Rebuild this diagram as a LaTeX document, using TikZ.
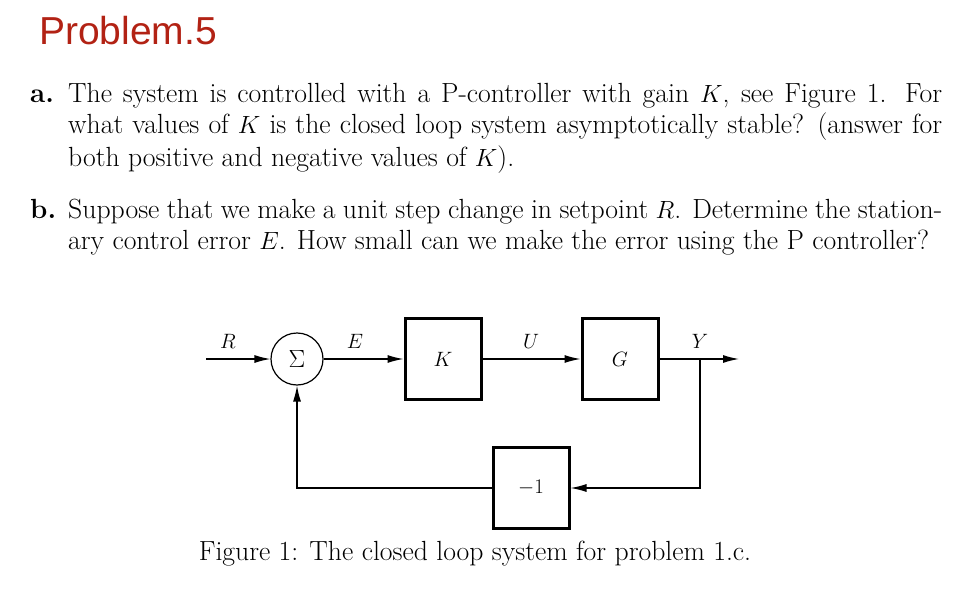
\documentclass[tikz,border=0pt]{standalone}
\usepackage{fontspec}
\newfontfamily\headfont{Liberation Sans}
\usetikzlibrary{arrows.meta}
\definecolor{headred}{RGB}{178,34,20}
\tikzset{
  blk/.style={draw,line width=3pt,minimum width=76pt,minimum height=81pt,inner sep=0pt,font=\fontsize{22}{22}\selectfont},
  sumc/.style={draw,circle,line width=1.2pt,minimum size=52pt,inner sep=0pt,font=\fontsize{24}{24}\selectfont},
  sig/.style={line width=1.3pt,-{Latex[length=16pt,width=8pt]}},
  wire/.style={line width=1.3pt},
  lbl/.style={font=\fontsize{22}{22}\selectfont\itshape},
  bodyl/.style={anchor=base west,inner sep=0pt,font=\fontsize{27.7}{31}\selectfont}
}
\newcommand{\jline}[1]{\makebox[874pt][s]{#1}}
\begin{document}
\begin{tikzpicture}[x=1pt,y=-1pt]
\useasboundingbox (0,0) rectangle (966,591);
\node[anchor=west,inner sep=0pt,text=headred,font=\headfont\fontsize{39}{39}\selectfont] (head) at (39,31) {Problem.5};
% part a
\node[bodyl] (la) at (30,103) {\textbf{a.}};
\node[bodyl] (a1) at (68,103) {\jline{The system is controlled with a P-controller with gain $K$, see Figure 1. For}};
\node[bodyl] (a2) at (68,134) {\jline{what values of $K$ is the closed loop system asymptotically stable? (answer for}};
\node[bodyl] (a3) at (68,166) {both positive and negative values of $K$).};
% part b
\node[bodyl] (lb) at (30,218) {\textbf{b.}};
\node[bodyl] (b1) at (68,218) {\jline{Suppose that we make a unit step change in setpoint $R$. Determine the station-}};
\node[bodyl] (b2) at (68,249) {ary control error $E$. How small can we make the error using the P controller?};
% diagram
\coordinate (rin) at (206,359);
\node[sumc] (sum) at (297,359) {$\Sigma$};
\node[blk] (K) at (443,359) {$K$};
\node[blk] (G) at (620,359) {$G$};
\node[blk] (M) at (531,488) {$-1$};
\coordinate (br) at (700,359);
\coordinate (yout) at (739,359);
\coordinate (bl) at (297,488);
\coordinate (brd) at (700,488);
\draw[sig] (rin) -- (sum.west);
\draw[sig] (sum.east) -- (K.west);
\draw[sig] (K.east) -- (G.west);
\draw[wire] (G.east) -- (br);
\draw[sig] (br) -- (yout);
\draw[sig] (br) -- (brd) -- (M.east);
\draw[sig] (M.west) -- (bl) -- (sum.south);
\node[lbl] (lR) at (228,341) {$R$};
\node[lbl] (lE) at (355,341) {$E$};
\node[lbl] (lU) at (531,341) {$U$};
\node[lbl] (lY) at (700,341) {$Y$};
\node[anchor=base,inner sep=0pt,font=\fontsize{27.7}{31}\selectfont] (cap) at (475,560) {Figure 1: The closed loop system for problem 1.c.};
\end{tikzpicture}
\end{document}
